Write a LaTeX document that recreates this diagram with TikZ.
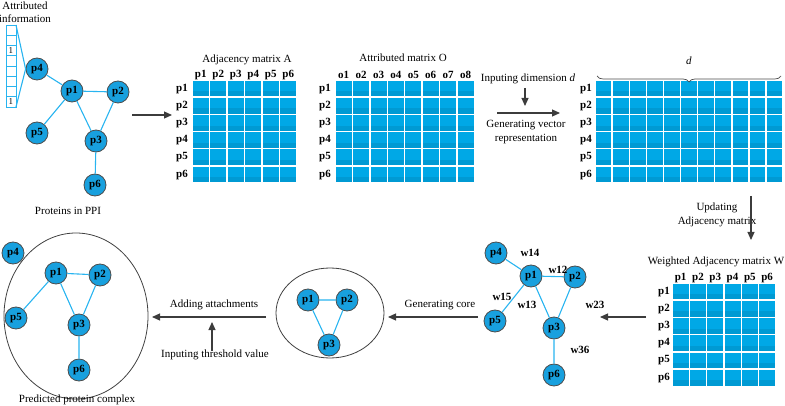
\documentclass[tikz,border=0pt]{standalone}
\usepackage{fontspec}
\setmainfont{Liberation Serif}
\usetikzlibrary{decorations.pathreplacing,arrows.meta}
\definecolor{cellc}{RGB}{0,168,230}
\definecolor{nodec}{RGB}{24,160,222}
\definecolor{edgec}{RGB}{40,180,240}
\definecolor{arrc}{RGB}{60,60,60}
\tikzset{
 prot/.style={circle,fill=nodec,draw=black!70,line width=0.8pt,minimum size=22pt,inner sep=0pt,font=\bfseries\fontsize{11}{11}\selectfont},
 edge/.style={draw=edgec,line width=1.1pt},
 flow/.style={draw=arrc,line width=1.1pt,-{Triangle[length=8pt,width=7pt]}},
 lbl/.style={font=\fontsize{11}{13.5}\selectfont,align=center,inner sep=1pt},
 blbl/.style={font=\bfseries\fontsize{11}{11}\selectfont,inner sep=1pt},
}
\newcommand{\mygrid}[6]{% x0 y0 cols rows cw ch
 \foreach \i in {1,...,#3}{\foreach \j in {1,...,#4}{
  \fill[cellc] ({#1+(\i-1)*#5+0.7},{#2+(\j-1)*#6+0.7}) rectangle ({#1+\i*#5-0.7},{#2+\j*#6-0.7});
  \fill[black,opacity=0.08] ({#1+(\i-1)*#5+0.7},{#2+(\j-0.35)*#6}) rectangle ({#1+\i*#5-0.7},{#2+\j*#6-0.7});}}}
\begin{document}
\begin{tikzpicture}[x=1pt,y=-1pt]
\useasboundingbox (0,0) rectangle (785,406);
% top-left graph
\node[lbl] (ai) at (25,12) {Attributed\\information};
\foreach \k in {1,...,8}{\draw[edgec,line width=0.8pt] (6,{25+(\k-1)*10.25}) rectangle (16,{25+\k*10.25});}
\node[font=\fontsize{9}{9}\selectfont,inner sep=0] at (11,50.6) {1};
\node[font=\fontsize{9}{9}\selectfont,inner sep=0] at (11,101.9) {1};
\coordinate (vt) at (16,25); \coordinate (vb) at (16,107);
\node[prot] (a4) at (37,69) {p4};
\node[prot] (a1) at (72,91) {p1};
\node[prot] (a2) at (118,92) {p2};
\node[prot] (a5) at (37,133) {p5};
\node[prot] (a3) at (96,141) {p3};
\node[prot] (a6) at (95,185) {p6};
\draw[edge] (vt) -- (a4.west) -- (vb);
\draw[edge] (a4)--(a1) (a1)--(a2) (a1)--(a5) (a1)--(a3) (a2)--(a3) (a3)--(a6);
\node[lbl] (ppi) at (68,211) {Proteins in PPI};
\coordinate (ar1s) at (132,115); \coordinate (ar1e) at (172,115);
\draw[flow] (ar1s)--(ar1e);
% Adjacency A
\node[lbl] (tA) at (247,60) {Adjacency matrix A};
\mygrid{192}{80}{6}{6}{17.5}{17.2}
\foreach \k in {1,...,6}{
 \node[blbl] at ({192+(\k-0.5)*17.5},75) {p\k};
 \node[blbl] at (182,{80+(\k-0.5)*17.2}) {p\k};}
% Attributed O
\node[lbl] (tO) at (403,58) {Attributed matrix O};
\mygrid{335}{80}{8}{6}{17.4}{17.2}
\foreach \k in {1,...,8}{\node[blbl] at ({335+(\k-0.5)*17.4},75) {o\k};}
\foreach \k in {1,...,6}{\node[blbl] at (325,{80+(\k-0.5)*17.2}) {p\k};}
% inputing dimension
\node[lbl] (id) at (528,79) {Inputing dimension \textit{d}};
\coordinate (d1) at (525,88); \coordinate (d2) at (525,106);
\draw[flow] (d1)--(d2);
\coordinate (r1) at (497,113); \coordinate (r2) at (560,113);
\draw[flow] (r1)--(r2);
\node[lbl] (gv) at (526,132) {Generating vector\\representation};
% D matrix
\mygrid{595}{80}{11}{6}{17.1}{17.2}
\foreach \k in {1,...,6}{\node[blbl] at (586,{80+(\k-0.5)*17.2}) {p\k};}
\coordinate (b1) at (597,76); \coordinate (b2) at (781,76);
\draw[black!70,line width=0.7pt,decorate,decoration={brace,amplitude=6pt}] (b2)--(b1);
\node[lbl] (dl) at (689,61) {\textit{d}};
% updating
\node[lbl] (up) at (717,215) {Updating\\Adjacency matrix};
\coordinate (u1) at (751,196); \coordinate (u2) at (751,240);
\draw[flow] (u1)--(u2);
% W matrix
\node[lbl] (tW) at (716,262) {Weighted Adjacency matrix W};
\mygrid{672}{283}{6}{6}{17.3}{17.2}
\foreach \k in {1,...,6}{
 \node[blbl] at ({672+(\k-0.5)*17.3},278) {p\k};
 \node[blbl] at (664,{283+(\k-0.5)*17.2}) {p\k};}
\coordinate (w1) at (646,317); \coordinate (w2) at (600,317);
\draw[flow] (w1)--(w2);
% weighted graph
\node[prot] (b4) at (496,253) {p4};
\node[prot] (b1n) at (531,276) {p1};
\node[prot] (b2n) at (575,277) {p2};
\node[prot] (b5) at (495,321) {p5};
\node[prot] (b3) at (554,328) {p3};
\node[prot] (b6) at (554,375) {p6};
\draw[edge] (b4)--(b1n) (b1n)--(b2n) (b1n)--(b5) (b1n)--(b3) (b2n)--(b3) (b3)--(b6);
\node[blbl] at (530,253) {w14};
\node[blbl] at (558,270) {w12};
\node[blbl] at (502,297) {w15};
\node[blbl] at (527,305) {w13};
\node[blbl] at (595,305) {w23};
\node[blbl] at (580,350) {w36};
% generating core
\node[lbl] (gc) at (440,305) {Generating core};
\coordinate (g1) at (478,317); \coordinate (g2) at (388,317);
\draw[flow] (g1)--(g2);
\draw[black!75,line width=0.8pt] (330,313) ellipse (54 and 45);
\node[prot] (c1) at (308,300) {p1};
\node[prot] (c2) at (347,300) {p2};
\node[prot] (c3) at (329,345) {p3};
\draw[edge] (c1)--(c2) (c1)--(c3) (c2)--(c3);
% adding attachments
\node[lbl] (aa) at (214,305) {Adding attachments};
\coordinate (h1) at (266,317); \coordinate (h2) at (152,317);
\draw[flow] (h1)--(h2);
\coordinate (t1) at (212,351); \coordinate (t2) at (212,322);
\draw[flow] (t1)--(t2);
\node[lbl] (it) at (215,355) {Inputing threshold value};
% predicted complex
\draw[black!75,line width=0.8pt] (76,316) ellipse (72 and 83);
\node[prot] (e4) at (13,253) {p4};
\node[prot] (e1) at (56,273) {p1};
\node[prot] (e2) at (100,275) {p2};
\node[prot] (e5) at (16,318) {p5};
\node[prot] (e3) at (79,325) {p3};
\node[prot] (e6) at (79,370) {p6};
\draw[edge] (e1)--(e2) (e1)--(e5) (e1)--(e3) (e2)--(e3) (e3)--(e6);
\node[lbl] (pc) at (77,400) {Predicted protein complex};
\end{tikzpicture}
\end{document}
